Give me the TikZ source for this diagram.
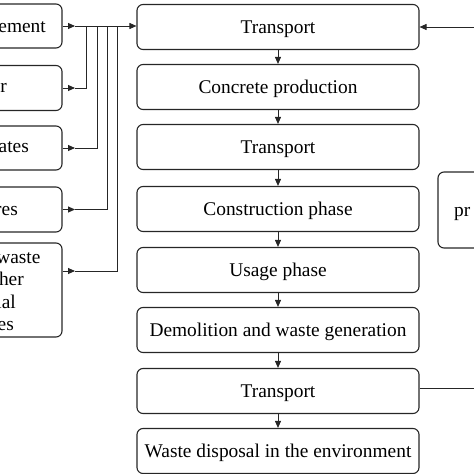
\documentclass[tikz,border=0pt]{standalone}
\usepackage{fontspec}
\setmainfont{Liberation Serif}
\usetikzlibrary{arrows.meta}

\tikzset{
	stage/.style = {draw = black!85, line width = 1.1pt, rounded corners = 6pt, minimum width = 282pt, minimum height = 45pt, inner sep = 0pt, text height = 12.5pt, text depth = 0pt},
	input/.style = {draw = black!85, line width = 1.1pt, rounded corners = 6pt, minimum width = 130pt, inner sep = 0pt},
	frag/.style = {inner sep = 0pt},
	link/.style = {draw = black!85, line width = 0.9pt},
	tip/.style = {link, -{Triangle[length = 7pt, width = 6pt]}}
}

\begin{document}
\begin{tikzpicture}[x = 1pt, y = -1pt, font = \fontsize{19.4}{22}\selectfont]
		\useasboundingbox (0, 0) rectangle (474, 474);
		\clip (0, 0) rectangle (474, 474);
		
		\def\mx{278}
		
		% life cycle stages
		\node [stage] (M1) at (\mx, 27) {Transport};
		\node [stage] (M2) at (\mx, 87) {Concrete production};
		\node [stage] (M3) at (\mx, 147) {Transport};
		\node [stage] (M4) at (\mx, 209) {Construction phase};
		\node [stage] (M5) at (\mx, 270) {Usage phase};
		\node [stage] (M6) at (\mx, 330) {Demolition and waste generation};
		\node [stage] (M7) at (\mx, 391) {Transport};
		\node [stage] (M8) at (\mx, 451) {Waste disposal in the environment};
		
		\foreach \a/\b in {M1/M2, M2/M3, M3/M4, M4/M5, M5/M6, M6/M7, M7/M8}
			\draw [tip] (\a.south) -- (\b.north);
		
		% inputs on the left
		\node [input, minimum height = 44pt] (L1) at (-3, 26) {};
		\node [input, minimum height = 45pt] (L2) at (-3, 88) {};
		\node [input, minimum height = 44pt] (L3) at (-3, 148) {};
		\node [input, minimum height = 45pt] (L4) at (-3, 209.5) {};
		\node [input, minimum height = 94pt] (L5) at (-3, 290) {};
		
		\node [frag, anchor = base east] (t1) at (46, 32) {ement};
		\node [frag, anchor = base east] (t2) at (7, 92.5) {r};
		\node [frag, anchor = base east] (t3) at (29, 152.5) {ates};
		\node [frag, anchor = base east] (t4) at (18, 215) {res};
		\node [frag, anchor = base east] (t5a) at (40.7, 263) {waste};
		\node [frag, anchor = base east] (t5b) at (24, 285.5) {her};
		\node [frag, anchor = base east] (t5c) at (16, 308) {ial};
		\node [frag, anchor = base east] (t5d) at (14, 330.5) {es};
		
		% recycling box on the right
		\node [input, minimum height = 76pt] (R) at (503, 210) {};
		\node [frag, anchor = base west] (p) at (454, 216) {pr};
		
		% collecting lines
		\coordinate (m1) at (75, 26);
		\coordinate (m2) at (75, 88);
		\coordinate (m3) at (75, 148);
		\coordinate (m4) at (75, 209.5);
		\coordinate (m5) at (75, 271);
		
		\coordinate (b2) at (86, 26);
		\coordinate (b3) at (97, 26);
		\coordinate (b4) at (107, 26);
		\coordinate (b5) at (117, 26);
		
		\draw [tip] (L1.east) -- (m1);
		\draw [tip] (L2.east) -- (m2);
		\draw [tip] (L3.east) -- (m3);
		\draw [tip] (L4.east) -- (m4);
		\draw [tip] (L5.east |- m5) -- (m5);
		
		\draw [tip] (m1) -- (m1 -| M1.west);
		\draw [link] (m2) -| (b2);
		\draw [link] (m3) -| (b3);
		\draw [link] (m4) -| (b4);
		\draw [link] (m5) -| (b5);
		
		% lines to the right
		\coordinate (r1) at (474, 27);
		\coordinate (r7) at (474, 388);
		
		\draw [tip] (r1) -- (M1.east);
		\draw [link] (M7.east |- r7) -- (r7);
	\end{tikzpicture}
\end{document}
